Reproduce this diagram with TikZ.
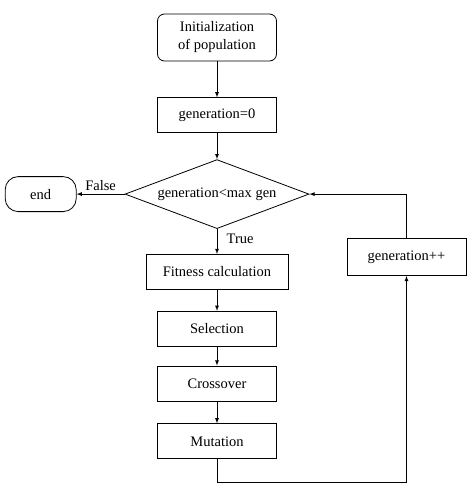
\documentclass[tikz,border=0pt]{standalone}
\usepackage{fontspec}
\setmainfont{Liberation Serif}
\usetikzlibrary{positioning,shapes.geometric}

\begin{document}
\begin{tikzpicture}[x=1pt,y=-1pt,->,>=latex,thick,
    every node/.style={font=\fontsize{14.5}{18}\selectfont},
    step node/.style={rectangle,draw,minimum width=119pt,minimum height=35pt,inner sep=2pt},
    start node/.style={rectangle,rounded corners=7pt,draw,minimum width=119pt,minimum height=47pt,align=center,inner sep=2pt},
    end node/.style={rectangle,rounded corners=13pt,draw,minimum width=71pt,minimum height=35pt},
    test node/.style={diamond,draw,minimum width=184pt,minimum height=69pt,inner sep=0pt,aspect=2.7}]
    \useasboundingbox (0,0) rectangle (474,488);

    \node[start node] (init) at (217,37.5) {Initialization\\of population};
    \node[step node] (gen0) [below=36pt of init] {generation=0};
    \node[test node] (cond) [below=26pt of gen0] {generation<max gen};
    \node[end node] (end) [left=48pt of cond] {end};

    \node[step node, minimum width=142pt] (fit) [below=25pt of cond] {Fitness calculation};
    \node[step node] (sel) [below=21pt of fit] {Selection};
    \node[step node] (cross) [below=19pt of sel] {Crossover};
    \node[step node] (mut) [below=22pt of cross] {Mutation};

    \node[step node, minimum height=37pt] (inc) at (406.5,257) {generation++};

    \path
        (init) edge (gen0)
        (gen0) edge (cond)
        (cond) edge node[above] {False} (end)
        (cond) edge node[right, pos=0.4, xshift=6pt] {True} (fit)
        (fit) edge (sel)
        (sel) edge (cross)
        (cross) edge (mut);

    \draw (mut.south) -- ++(0,23) -| (inc.south);
    \draw (inc.north) |- (cond.east);
\end{tikzpicture}
\end{document}
